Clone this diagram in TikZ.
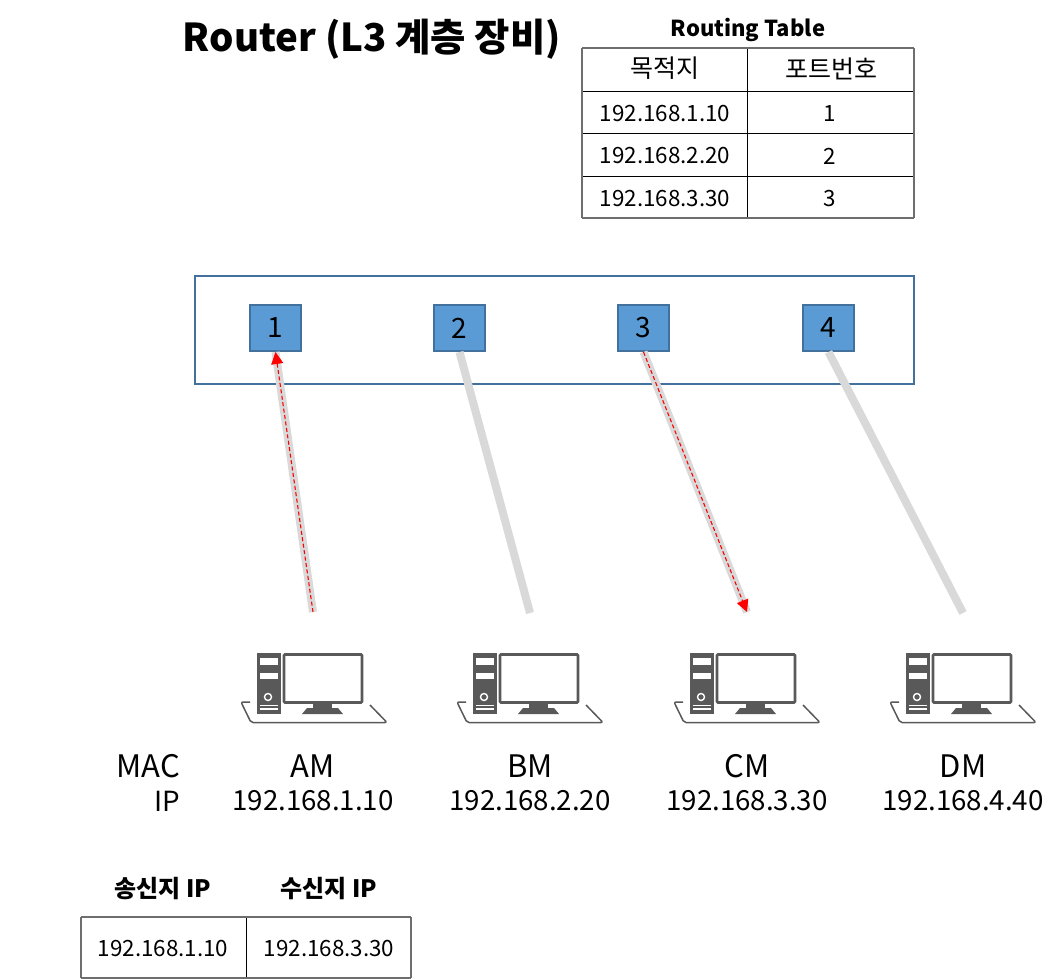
\documentclass[tikz,border=0pt]{standalone}
\usepackage{fontspec}
\setmainfont{Noto Sans CJK KR}
\usetikzlibrary{arrows.meta}
\definecolor{portfill}{HTML}{5B9BD5}
\definecolor{portline}{HTML}{41719C}
\definecolor{cable}{HTML}{D9D9D9}
\definecolor{pcgray}{HTML}{595959}
\definecolor{tgray}{HTML}{6E6E6E}
\tikzset{
  x=1pt,y=-1pt,
  routerbox/.style={draw=portline,line width=1.8pt},
  port/.style={draw=portline,fill=portfill,line width=2pt,minimum width=51pt,minimum height=46pt,inner sep=0pt,font=\fontsize{28}{32}\selectfont},
  cablewire/.style={draw=cable,line width=8pt},
  redflow/.style={draw=red,line width=1.1pt,dash pattern=on 4pt off 2.5pt,-{Triangle[length=12pt,width=12pt,fill=red]}},
  biglabel/.style={font=\fontsize{27.7}{32}\selectfont,inner sep=0pt},
  caplabel/.style={font=\fontsize{31}{34}\selectfont,inner sep=0pt},
  celltext/.style={font=\fontsize{22.4}{26}\selectfont,inner sep=0pt},
  korhead/.style={font=\fontsize{25}{28}\selectfont,inner sep=0pt},
  headtext/.style={font=\fontsize{22}{26}\selectfont\bfseries,inner sep=0pt},
  korbold/.style={font=\fontsize{24}{28}\selectfont\bfseries,inner sep=0pt},
  tgrid/.style={draw=black,line width=0.8pt},
  tedge/.style={draw=tgray,line width=1.6pt},
  pics/pcset/.style={code={
    \fill[pcgray] (-56,41) rectangle (-32,102);
    \fill[white] (-53,46) rectangle (-35,52.5);
    \fill[white] (-53,61) rectangle (-35,67);
    \fill[white] (-53,92.5) rectangle (-35,94);
    \fill[white] (-53,96) rectangle (-35,98);
    \draw[white,line width=1.4pt] (-45,85) circle (3.5);
    \draw[pcgray,line width=2.6pt,rounded corners=1pt] (-29,42.5) rectangle (49,90.5);
    \fill[pcgray] (0,91) rectangle (19,96);
    \fill[pcgray] (-11,102) -- (-6,96) -- (25,96) -- (30,102) -- cycle;
    \draw[pcgray,line width=1.5pt,line join=round,rounded corners=2pt] (-63,90) -- (-72,90) -- (-62,110.5) -- (74,110.5) -- (57,93);
  }}
}
\begin{document}
\begin{tikzpicture}
\useasboundingbox (0,0) rectangle (1062,979);
\fill[white] (0,0) rectangle (1062,979);

\node[font=\fontsize{38.4}{44}\selectfont\bfseries,inner sep=0pt] (title) at (372,39) {Router (L3 계층 장비)};
\node[headtext] (rtcap) at (748,30) {Routing Table};

% routing table
\draw[tgrid] (582,91) -- (914,91) (582,133.5) -- (914,133.5) (582,176) -- (914,176) (747.5,48) -- (747.5,218);
\draw[tedge] (582,48) -- (914,48) (582,218) -- (914,218) (582,48) -- (582,218) (914,48) -- (914,218);
\node[korhead] (h1) at (665,68.5) {목적지};
\node[korhead] (h2) at (831,68.5) {포트번호};
\node[celltext] (a1) at (665,114) {192.168.1.10};
\node[celltext] (b1) at (830,114) {1};
\node[celltext] (a2) at (665,156) {192.168.2.20};
\node[celltext] (b2) at (830,156) {2};
\node[celltext] (a3) at (665,199) {192.168.3.30};
\node[celltext] (b3) at (830,199) {3};

% router
\draw[routerbox] (195,276) rectangle (914,384);
\node[port] (p1) at (275.5,328) {1};
\node[port] (p2) at (459.5,328) {2};
\node[port] (p3) at (643.5,328) {3};
\node[port] (p4) at (828.5,328) {4};

% cable ends
\coordinate (e1) at (313,612);
\coordinate (e2) at (530,613);
\coordinate (e3) at (747,612);
\coordinate (e4) at (963,613);
\draw[cablewire] (p1.south) -- (e1);
\draw[cablewire] (p2.south) -- (e2);
\draw[cablewire] (p3.south) -- (e3);
\draw[cablewire] (p4.south) -- (e4);
\draw[redflow] (e1) -- (p1.south);
\draw[redflow] (p3.south) -- (e3);

% computers
\pic at (313,612) {pcset};
\pic at (529,612) {pcset};
\pic at (746,612) {pcset};
\pic at (962,612) {pcset};

% labels
\node[caplabel,anchor=east] (mac) at (180,766) {MAC};
\node[biglabel,anchor=east] (ip) at (180,801) {IP};
\node[caplabel] (m1) at (313,766) {AM};
\node[biglabel] (i1) at (313,801) {192.168.1.10};
\node[caplabel] (m2) at (530,766) {BM};
\node[biglabel] (i2) at (530,801) {192.168.2.20};
\node[caplabel] (m3) at (747,766) {CM};
\node[biglabel] (i3) at (747,801) {192.168.3.30};
\node[caplabel] (m4) at (963,766) {DM};
\node[biglabel] (i4) at (963,801) {192.168.4.40};

% packet table
\node[korbold] (s) at (163,889) {송신지 IP};
\node[korbold] (d) at (329,889) {수신지 IP};
\draw[tgrid] (246,917) -- (246,978);
\draw[tedge] (81,917) -- (411,917) (81,978) -- (411,978) (81,917) -- (81,978) (411,917) -- (411,978);
\node[celltext] (sv) at (163,949) {192.168.1.10};
\node[celltext] (dv) at (329,949) {192.168.3.30};
\end{tikzpicture}
\end{document}
